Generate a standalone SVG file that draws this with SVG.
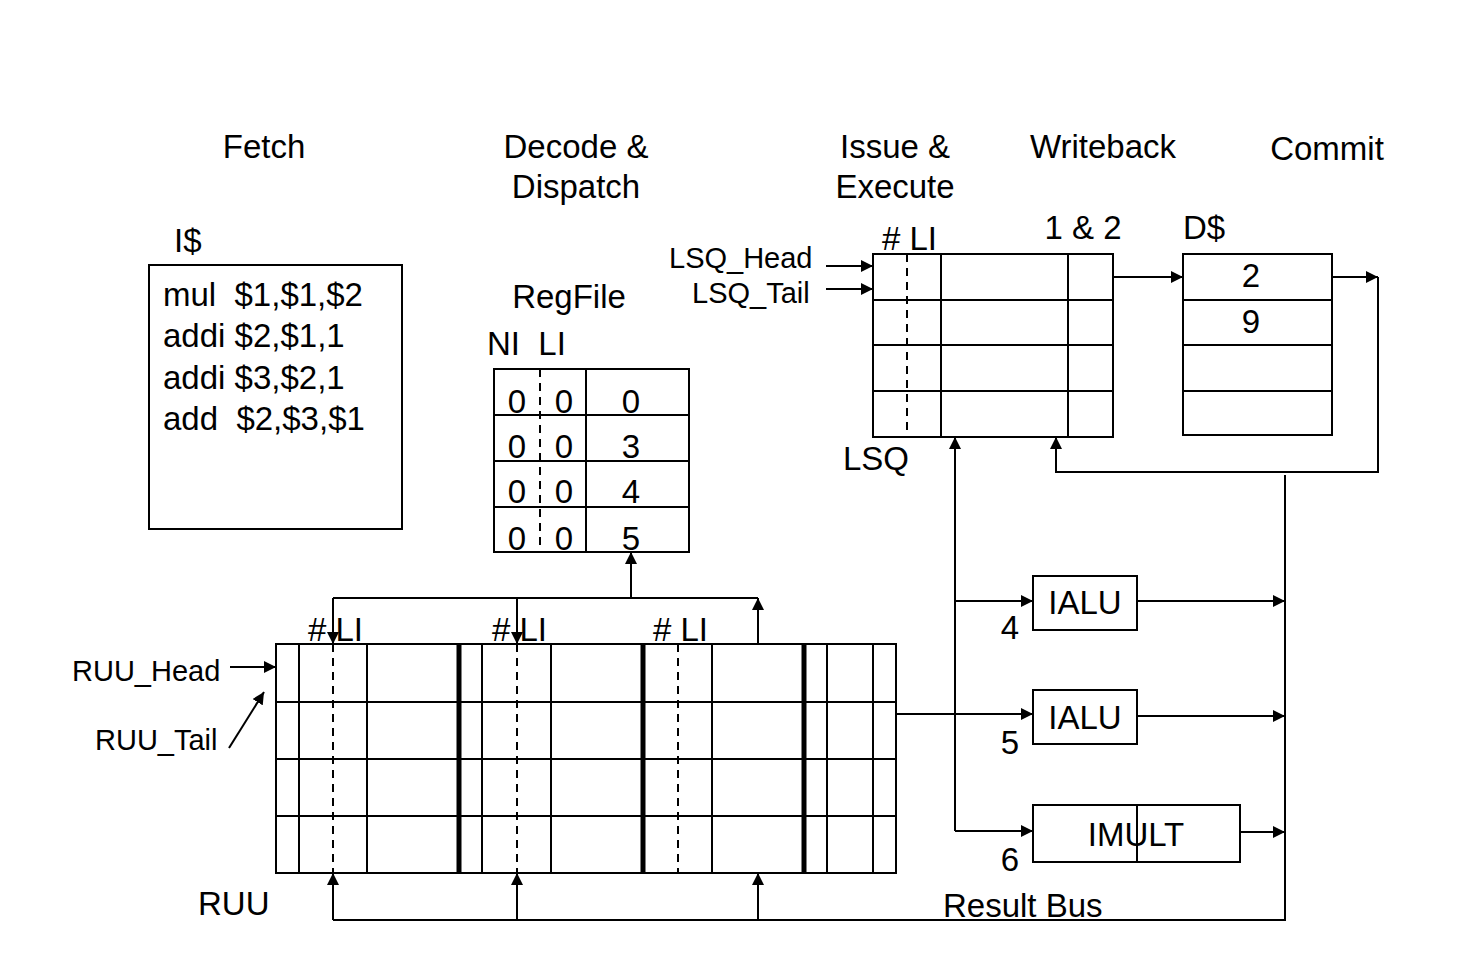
<svg xmlns="http://www.w3.org/2000/svg" width="1482" height="958" viewBox="0 0 1482 958">
<style>
text{font-family:"Liberation Sans",Arial,sans-serif;fill:#000;white-space:pre}
.h{font-size:33px}
.s{font-size:29px}
.b{fill:none;stroke:#000;stroke-width:2}
.l{fill:none;stroke:#000;stroke-width:2}
.t{stroke:#000;stroke-width:5}
.d{stroke:#000;stroke-width:2;stroke-dasharray:8,6}
.c{fill:none;stroke:#000;stroke-width:2}
</style>
<defs>
<marker id="a" viewBox="0 0 10 10" refX="10" refY="5" markerWidth="6" markerHeight="6" orient="auto"><path d="M0,0L10,5L0,10z" fill="#000"/></marker>
</defs>
<rect width="1482" height="958" fill="#fff"/>
<g id="stages" class="h">
<text x="264" y="158" text-anchor="middle">Fetch</text>
<text x="576" y="158" text-anchor="middle">Decode &amp;</text>
<text x="576" y="198" text-anchor="middle">Dispatch</text>
<text x="895" y="158" text-anchor="middle">Issue &amp;</text>
<text x="895" y="198" text-anchor="middle">Execute</text>
<text x="1103" y="158" text-anchor="middle">Writeback</text>
<text x="1327" y="160" text-anchor="middle">Commit</text>
</g>
<g id="icache">
<text class="h" x="174" y="252">I$</text>
<rect class="b" x="149" y="265" width="253" height="264"/>
<text class="h" x="163" y="306" xml:space="preserve">mul  $1,$1,$2</text>
<text class="h" x="163" y="347">addi $2,$1,1</text>
<text class="h" x="163" y="389">addi $3,$2,1</text>
<text class="h" x="163" y="430" xml:space="preserve">add  $2,$3,$1</text>
</g>
<g id="regfile">
<text class="h" x="569" y="308" text-anchor="middle">RegFile</text>
<text class="h" x="487" y="355" xml:space="preserve">NI  LI</text>
<rect class="b" x="494" y="369" width="195" height="183"/>
<path class="l" d="M494,415H689M494,461H689M494,507H689M586,369V552"/>
<path class="d" d="M540,369V552"/>
<g class="h" text-anchor="middle">
<text x="517" y="413">0</text><text x="564" y="413">0</text><text x="631" y="413">0</text>
<text x="517" y="458">0</text><text x="564" y="458">0</text><text x="631" y="458">3</text>
<text x="517" y="503">0</text><text x="564" y="503">0</text><text x="631" y="503">4</text>
<text x="517" y="550">0</text><text x="564" y="550">0</text><text x="631" y="550">5</text>
</g>
</g>
<g id="lsq">
<text class="h" x="882" y="250"># LI</text>
<text class="h" x="1083" y="239" text-anchor="middle">1 &amp; 2</text>
<text class="s" x="669" y="268">LSQ_Head</text>
<text class="s" x="692" y="303">LSQ_Tail</text>
<rect class="b" x="873" y="254" width="240" height="183"/>
<path class="l" d="M873,300H1113M873,345H1113M873,391H1113M941,254V437M1068,254V437"/>
<path class="d" d="M907,254V437"/>
<text class="h" x="843" y="470">LSQ</text>
</g>
<g id="dcache">
<text class="h" x="1183" y="239">D$</text>
<rect class="b" x="1183" y="254" width="149" height="181"/>
<path class="l" d="M1183,300H1332M1183,345H1332M1183,391H1332"/>
<text class="h" x="1251" y="287" text-anchor="middle">2</text>
<text class="h" x="1251" y="333" text-anchor="middle">9</text>
</g>
<g id="ruu">
<text class="h" x="308" y="641"># LI</text>
<text class="h" x="492" y="641"># LI</text>
<text class="h" x="653" y="641"># LI</text>
<rect class="b" x="276" y="644" width="620" height="229"/>
<path class="l" d="M276,702H896M276,759H896M276,816H896M299,644V873M367,644V873M482,644V873M551,644V873M712,644V873M827,644V873M873,644V873"/>
<path class="t" d="M459,644V873M643,644V873M804,644V873"/>
<path class="d" d="M333,644V873M517,644V873M678,644V873"/>
<text class="h" x="198" y="915">RUU</text>
<text class="s" x="72" y="681">RUU_Head</text>
<text class="s" x="95" y="750">RUU_Tail</text>
</g>
<g id="ialu1"><rect class="b" x="1033" y="576" width="104" height="54"/><text class="h" x="1085" y="614" text-anchor="middle">IALU</text><text class="h" x="1010" y="639" text-anchor="middle">4</text></g>
<g id="ialu2"><rect class="b" x="1033" y="690" width="104" height="54"/><text class="h" x="1085" y="729" text-anchor="middle">IALU</text><text class="h" x="1010" y="754" text-anchor="middle">5</text></g>
<g id="imult"><rect class="b" x="1033" y="805" width="207" height="57"/><path class="l" d="M1137,805V862"/><text class="h" x="1136" y="846" text-anchor="middle">IMULT</text><text class="h" x="1010" y="871" text-anchor="middle">6</text></g>
<text class="h" x="943" y="917">Result Bus</text>
<g id="connectors">
<path class="c" marker-end="url(#a)" d="M631,598V552"/>
<path class="c" d="M333,598H758"/>
<path class="c" marker-end="url(#a)" d="M333,598V644"/>
<path class="c" marker-end="url(#a)" d="M517,598V644"/>
<path class="c" marker-end="url(#a)" d="M758,644V598"/>
<path class="c" d="M333,920H1285V475"/>
<path class="c" marker-end="url(#a)" d="M333,920V873"/>
<path class="c" marker-end="url(#a)" d="M517,920V873"/>
<path class="c" marker-end="url(#a)" d="M758,920V873"/>
<path class="c" marker-end="url(#a)" d="M826,266H873"/>
<path class="c" marker-end="url(#a)" d="M826,289H873"/>
<path class="c" marker-end="url(#a)" d="M1113,277H1183"/>
<path class="c" marker-end="url(#a)" d="M1332,277H1378"/>
<path class="c" marker-end="url(#a)" d="M1378,277V472H1056V437"/>
<path class="c" marker-end="url(#a)" d="M955,831V437"/>
<path class="c" marker-end="url(#a)" d="M955,601H1033"/>
<path class="c" marker-end="url(#a)" d="M955,831H1033"/>
<path class="c" marker-end="url(#a)" d="M896,714H1033"/>
<path class="c" marker-end="url(#a)" d="M1137,601H1285"/>
<path class="c" marker-end="url(#a)" d="M1137,716H1285"/>
<path class="c" marker-end="url(#a)" d="M1240,832H1285"/>
<path class="c" marker-end="url(#a)" d="M230,667H276"/>
<path class="c" marker-end="url(#a)" d="M229,748L264,692"/>
</g>
</svg>
